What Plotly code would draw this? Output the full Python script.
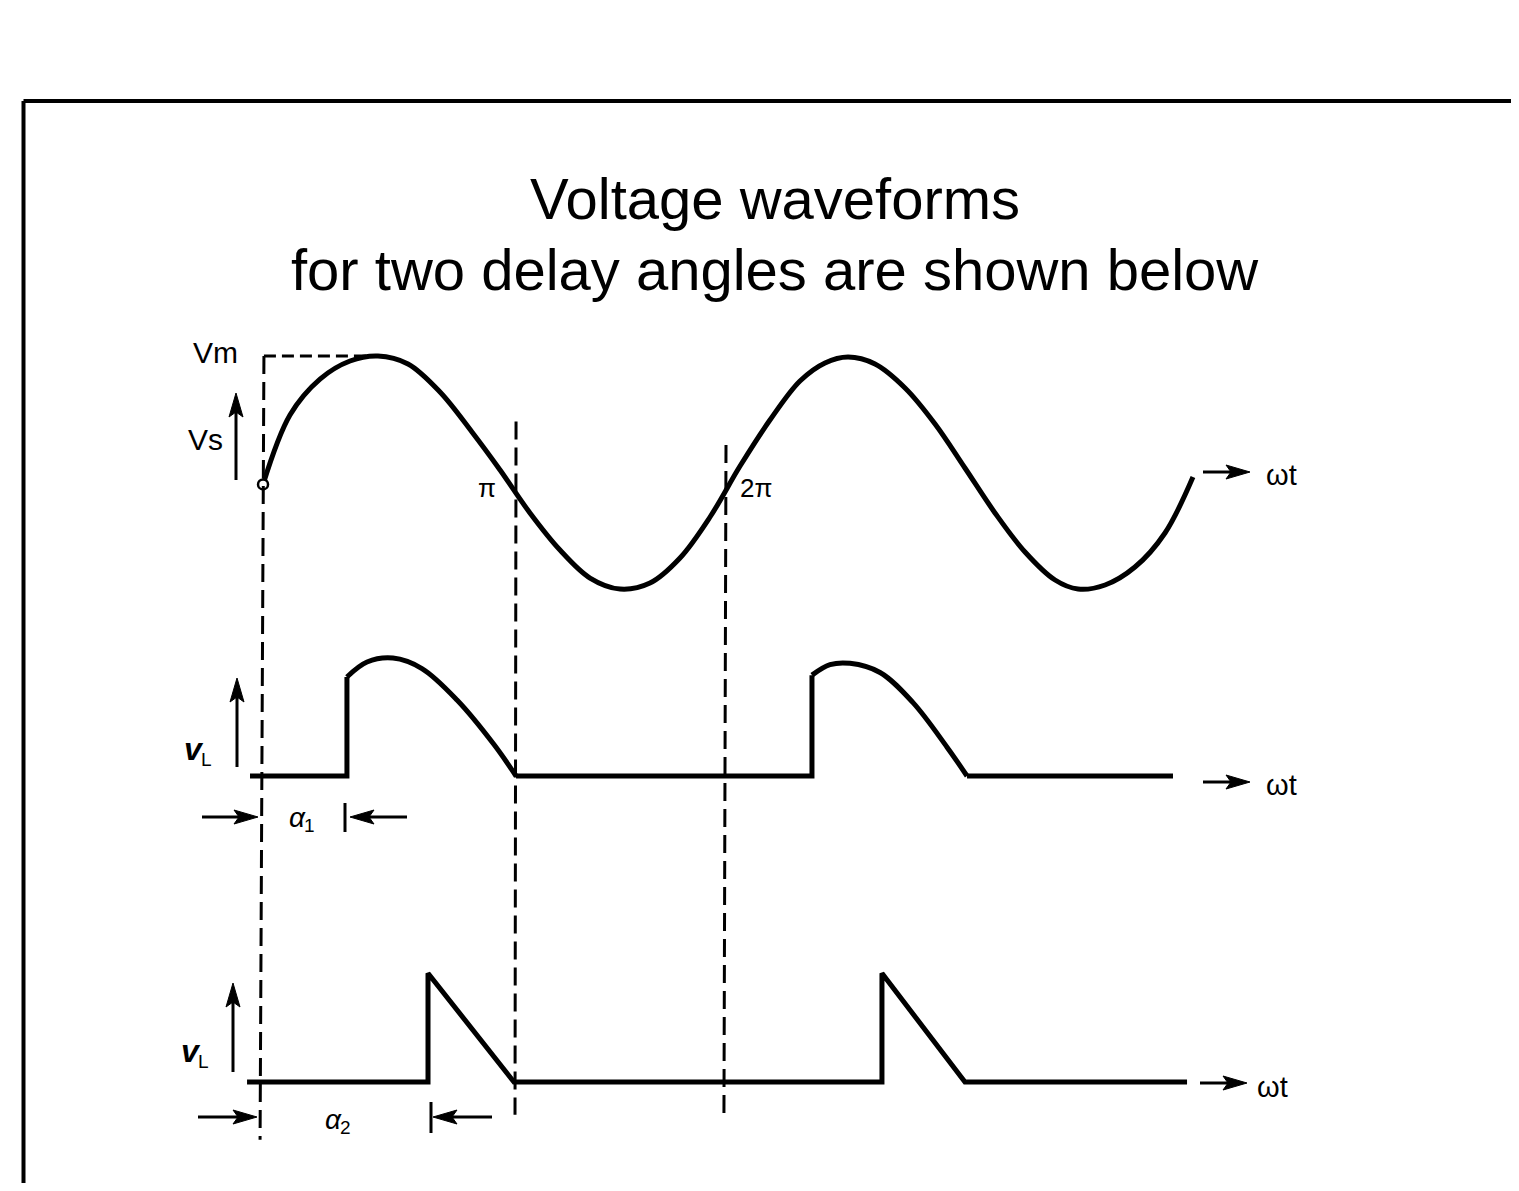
import math
import plotly.graph_objects as go

# ---------------- data ----------------
# angle: degrees as drawn (0 = left dashed line, 360 = "2π" dashed line)
# values: normalised to Vm
vs_angle = [0.8, 21.7, 45.0, 68.3, 90.0, 113.3, 138.1, 162.9, 184.7, 207.9, 231.2,
            254.5, 277.8, 301.0, 324.3, 347.6, 370.9, 394.1, 417.4, 436.8, 454.7,
            475.6, 498.9, 522.2, 545.4, 568.7, 592.0, 615.3, 633.1, 654.1, 677.3,
            700.6, 722.3]
vs_value = [0.02, 0.55, 0.824, 0.962, 1.0, 0.939, 0.725, 0.42, 0.13, -0.198, -0.481,
            -0.695, -0.779, -0.733, -0.542, -0.229, 0.16, 0.511, 0.809, 0.947, 0.992,
            0.939, 0.756, 0.481, 0.145, -0.198, -0.496, -0.71, -0.779, -0.748, -0.611,
            -0.351, 0.076]

# load voltage, delay angle α1 (straight parts, None = break)
vl1_line_angle = [-9.3, 65.9, 65.9, None, 197.1, 426.7, 426.7, None, 547.0, 706.8]
vl1_line_value = [0.0, 0.0, 0.756, None, 0.0, 0.0, 0.77, None, 0.0, 0.0]
# conduction arcs
vl1_arc1_angle = [65.9, 81.5, 101.6, 124.1, 151.3, 180.0, 197.1]
vl1_arc1_value = [0.756, 0.87, 0.90, 0.82, 0.58, 0.24, 0.0]
vl1_arc2_angle = [426.7, 440.7, 456.2, 479.5, 505.1, 531.5, 547.0]
vl1_arc2_value = [0.77, 0.85, 0.86, 0.79, 0.56, 0.22, 0.0]

# load voltage, delay angle α2
vl2_angle = [-11.6, 128.8, 128.8, 195.5, 481.0, 481.0, 545.4, 717.7]
vl2_value = [0.0, 0.0, 0.83, 0.0, 0.0, 0.83, 0.0, 0.0]

# dashed guide lines (angle at top, angle at bottom)
guide_top_angle = [1.5, 197.1, 360.0]
guide_bot_angle = [-1.5, 196.3, 358.4]
guide_top_value = [1.0, 0.50, 0.32]      # on the vs scale
guide_bot_value = [-0.44, -0.25, -0.25]  # on the vL (α2) scale

title_lines = ["Voltage waveforms", "for two delay angles are shown below"]

# ---------------- geometry helpers ----------------
FIG_W, FIG_H = 1503, 1175
OFF = 8                 # default body margin of the page
PX0, PXD = 262.0, 464.0 / 360.0
S = 131.0
ZERO = {"y": 487.0, "y2": 776.0, "y3": 1082.0}


def X(p):
    return (p - PX0) / PXD


def Y(p, ax="y"):
    return (ZERO[ax] - p) / S


def yrange(ax):
    return [Y(OFF + FIG_H, ax), Y(OFF, ax)]


FONT = "Liberation Sans, Arial, sans-serif"
BLACK = "#000000"

fig = go.Figure()

fig.add_trace(go.Scatter(x=vs_angle, y=vs_value, mode="lines", yaxis="y",
                         line=dict(color=BLACK, width=5, shape="spline", smoothing=1.0)))
fig.add_trace(go.Scatter(x=[vs_angle[0]], y=[vs_value[0]], mode="markers", yaxis="y",
                         marker=dict(symbol="circle", size=10, color="white",
                                     line=dict(color=BLACK, width=2.5))))

fig.add_trace(go.Scatter(x=vl1_line_angle, y=vl1_line_value, mode="lines", yaxis="y2",
                         line=dict(color=BLACK, width=5)))
for xa, ya in [(vl1_arc1_angle, vl1_arc1_value), (vl1_arc2_angle, vl1_arc2_value)]:
    fig.add_trace(go.Scatter(x=xa, y=ya, mode="lines", yaxis="y2",
                             line=dict(color=BLACK, width=5, shape="spline", smoothing=1.0)))

fig.add_trace(go.Scatter(x=vl2_angle, y=vl2_value, mode="lines", yaxis="y3",
                         line=dict(color=BLACK, width=5)))

shapes = []
# dashed guides
for xt, xb, yt, yb in zip(guide_top_angle, guide_bot_angle, guide_top_value, guide_bot_value):
    yb_on_vs = Y(ZERO["y3"] - yb * S, "y")
    shapes.append(dict(type="line", xref="x", yref="y", x0=xt, y0=yt, x1=xb, y1=yb_on_vs,
                       line=dict(color=BLACK, width=3, dash="18px,8px")))
# Vm dashed level
shapes.append(dict(type="line", xref="x", yref="y", x0=guide_top_angle[0], y0=1.0,
                   x1=X(366), y1=1.0, line=dict(color=BLACK, width=3, dash="12px,6px")))
# tick bars for α markers
shapes.append(dict(type="line", xref="x", yref="y2", x0=X(345), x1=X(345),
                   y0=Y(803, "y2"), y1=Y(832, "y2"), line=dict(color=BLACK, width=3)))
shapes.append(dict(type="line", xref="x", yref="y3", x0=X(431), x1=X(431),
                   y0=Y(1102, "y3"), y1=Y(1133, "y3"), line=dict(color=BLACK, width=3)))
# frame
bx = (23.5 - OFF) / FIG_W
by = 1 - (101 - OFF) / FIG_H
shapes.append(dict(type="line", xref="paper", yref="paper", x0=bx, y0=by, x1=1.0, y1=by,
                   line=dict(color=BLACK, width=4)))
shapes.append(dict(type="line", xref="paper", yref="paper", x0=bx, y0=by, x1=bx, y1=0.0,
                   line=dict(color=BLACK, width=4)))


def arrow(tip, tail, ax="y", head_len=24, half_w=7, notch=5):
    dx, dy = tip[0] - tail[0], tip[1] - tail[1]
    ln = math.hypot(dx, dy)
    ux, uy = dx / ln, dy / ln
    nx, ny = -uy, ux
    bxp, byp = tip[0] - ux * head_len, tip[1] - uy * head_len
    p1 = (bxp + nx * half_w, byp + ny * half_w)
    p2 = (bxp - nx * half_w, byp - ny * half_w)
    nt = (tip[0] - ux * (head_len - notch), tip[1] - uy * (head_len - notch))
    pts = [tip, p1, nt, p2]
    path = "M" + " L".join(f"{X(p[0]):.4f},{Y(p[1], ax):.5f}" for p in pts) + " Z"
    shapes.append(dict(type="path", xref="x", yref=ax, path=path,
                       fillcolor=BLACK, line=dict(color=BLACK, width=1)))
    shapes.append(dict(type="line", xref="x", yref=ax, x0=X(tail[0]), y0=Y(tail[1], ax),
                       x1=X(nt[0]), y1=Y(nt[1], ax), line=dict(color=BLACK, width=3)))


arrow((236, 393), (236, 480), "y")
arrow((237, 678), (237, 767), "y2")
arrow((233, 983), (233, 1072), "y3")
arrow((258, 817), (202, 817), "y2")
arrow((350, 817), (407, 817), "y2")
arrow((257, 1117), (198, 1117), "y3")
arrow((433, 1117), (492, 1117), "y3")
arrow((1250, 472), (1203, 472), "y")
arrow((1250, 782), (1203, 782), "y2")
arrow((1247, 1083), (1200, 1083), "y3")

annotations = []


def label(text, px, py, size, ax="y", weight="normal", style="normal"):
    annotations.append(dict(text=text, x=X(px), y=Y(py, ax), xref="x", yref=ax,
                            showarrow=False, xanchor="center", yanchor="middle",
                            font=dict(family=FONT, size=size, color=BLACK,
                                      weight=weight, style=style)))


label(title_lines[0], 775, 198, 58)
label(title_lines[1], 775, 269, 58)

label("Vm", 215.5, 352.5, 30)
label("Vs", 205.5, 439, 30)
label("π", 487, 488, 26)
label("2π", 756, 488, 26)
label("ωt", 1281, 474.5, 29)
label("ωt", 1281, 784.5, 29, "y2")
label("ωt", 1272, 1086.5, 29, "y3")

# load-voltage symbols v_L (main letter + subscript)
label("v", 194, 749, 32, "y2", weight="bold", style="italic")
label("L", 206, 759, 19, "y2")
label("v", 191, 1051, 32, "y3", weight="bold", style="italic")
label("L", 203, 1061, 19, "y3")

# delay angles α1, α2 (main letter + subscript)
label("α", 297, 817, 28, "y2", style="italic")
label("1", 309, 825, 19, "y2")
label("α", 333, 1119, 28, "y3", style="italic")
label("2", 345, 1127, 19, "y3")

hidden = dict(visible=False, showgrid=False, zeroline=False, fixedrange=True)
fig.update_layout(
    width=FIG_W, height=FIG_H,
    margin=dict(l=0, r=0, t=0, b=0, pad=0),
    paper_bgcolor="white", plot_bgcolor="white",
    showlegend=False, hovermode=False,
    xaxis=dict(range=[X(OFF), X(OFF + FIG_W)], domain=[0, 1], **hidden),
    yaxis=dict(range=yrange("y"), domain=[0, 1], **hidden),
    yaxis2=dict(range=yrange("y2"), overlaying="y", **hidden),
    yaxis3=dict(range=yrange("y3"), overlaying="y", **hidden),
    shapes=shapes,
    annotations=annotations,
)

fig.write_html("out.html")
